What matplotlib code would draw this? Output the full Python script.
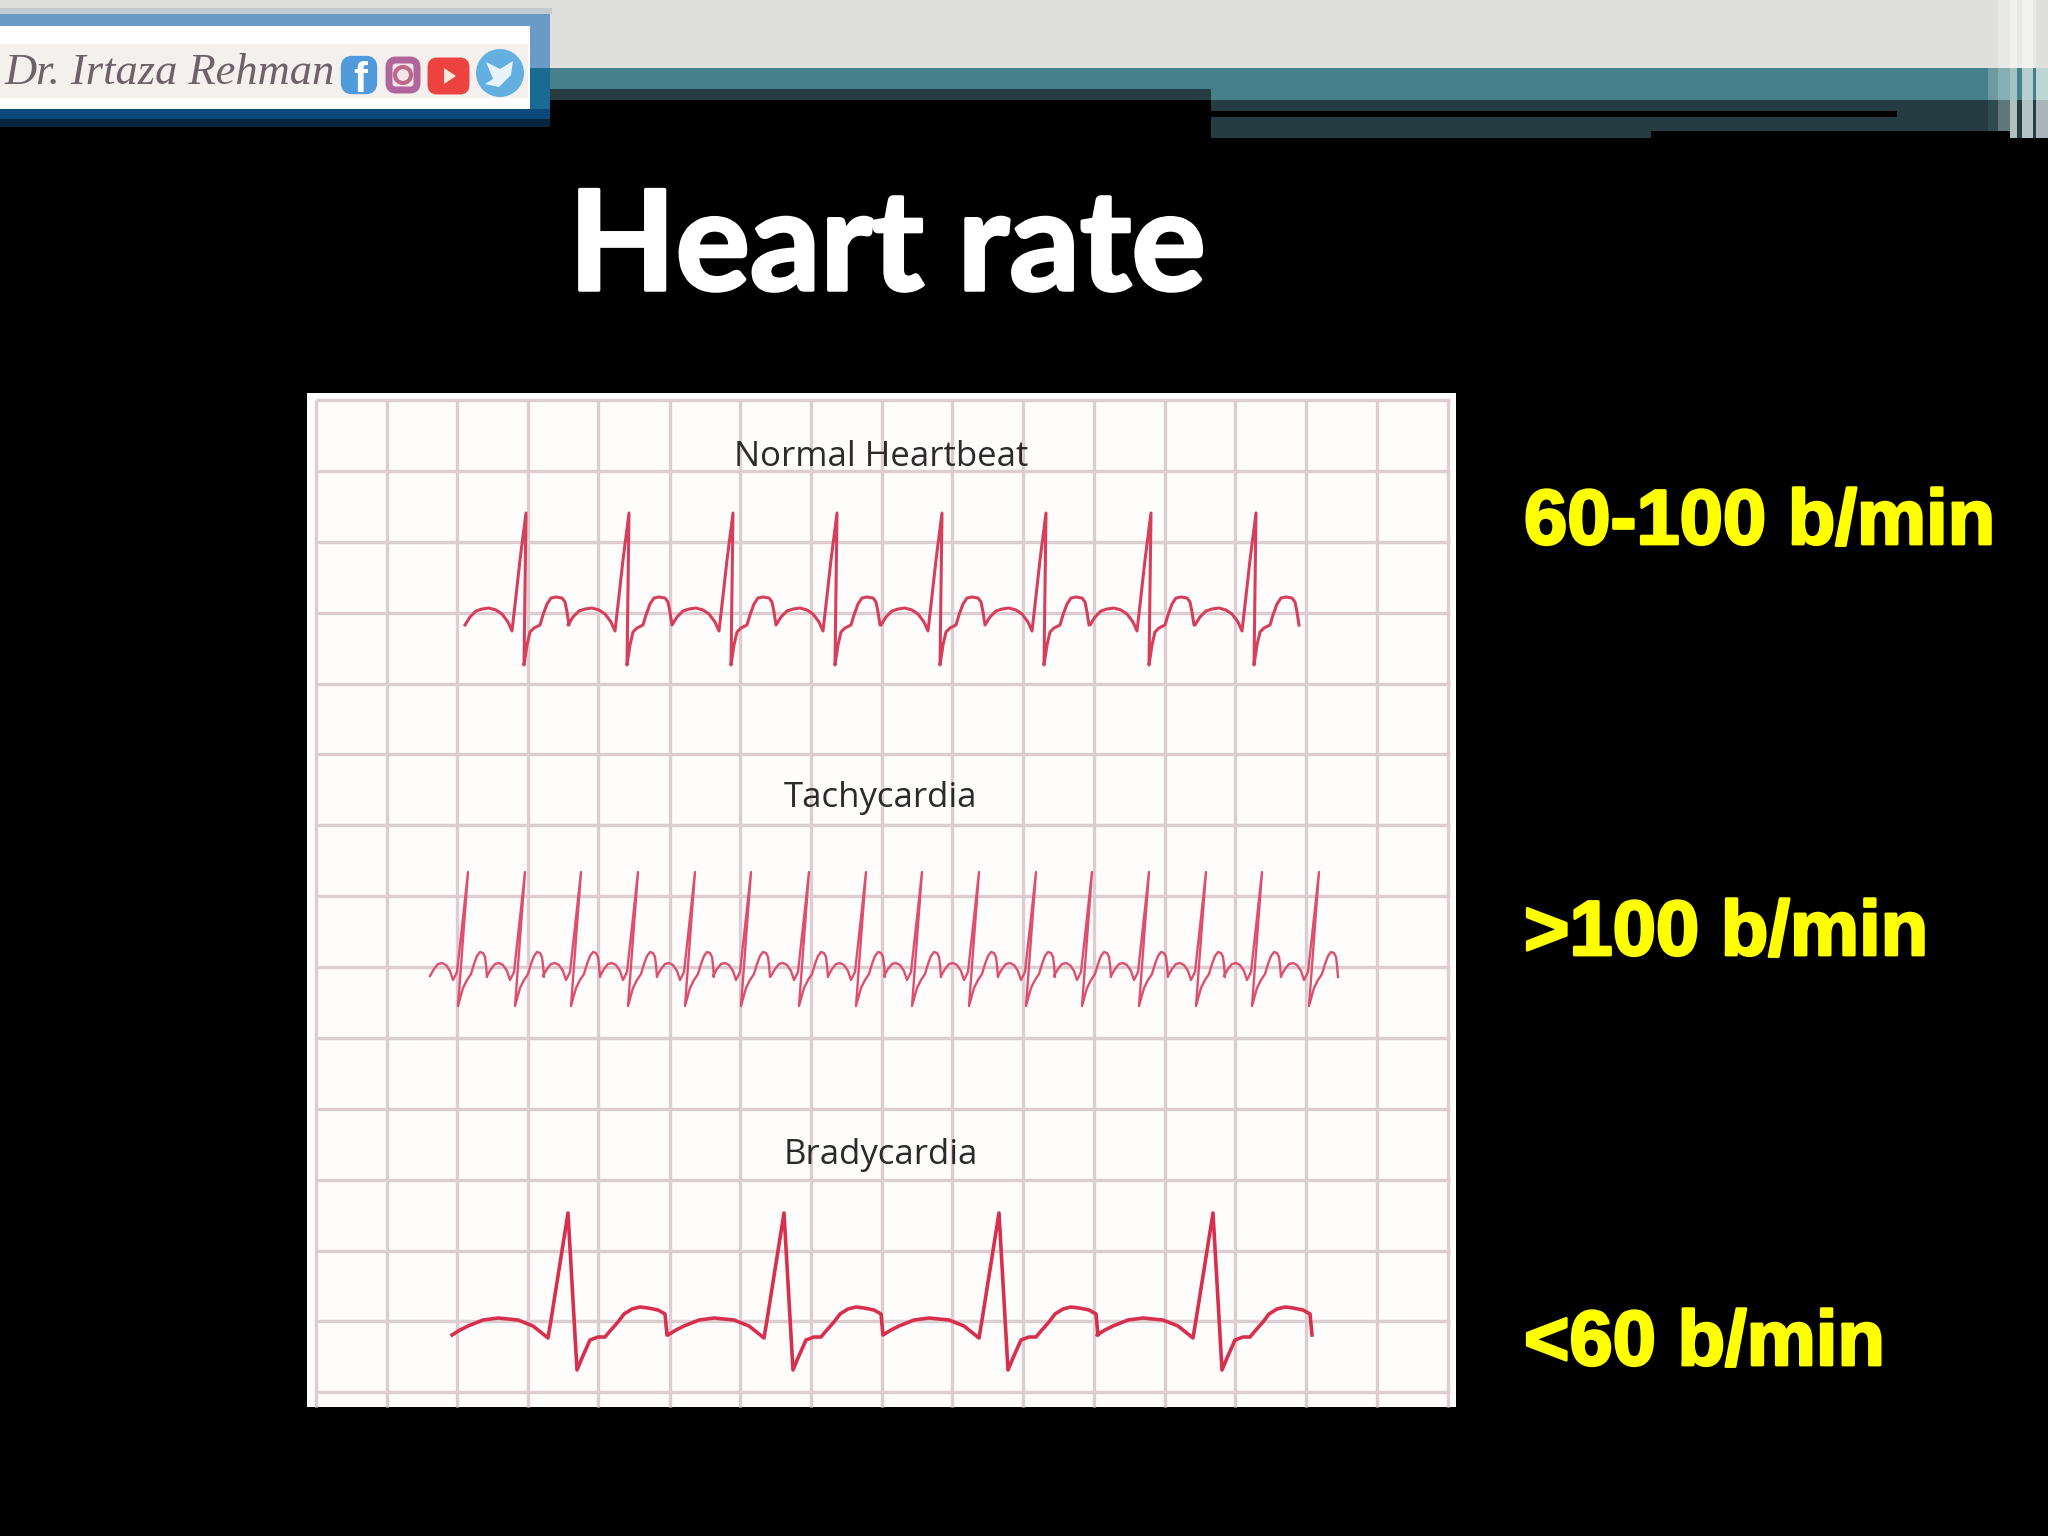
import matplotlib
matplotlib.use('Agg')
import matplotlib.pyplot as plt
import matplotlib.patheffects as pe
from matplotlib.patches import Rectangle, FancyBboxPatch, Circle, Polygon

title = 'Heart rate'
author = 'Dr. Irtaza Rehman'
strip_names = ['Normal Heartbeat', 'Tachycardia', 'Bradycardia']
rate_labels = ['60-100 b/min', '>100 b/min', '<60 b/min']

# grid lines of the ecg paper
grid_x = [316, 387, 457, 528, 598, 670, 740, 811, 882, 952, 1023, 1094, 1165, 1235, 1306, 1377, 1448]
grid_y = [400, 471, 542, 613, 684, 754, 825, 896, 967, 1038, 1109, 1180, 1251, 1321, 1392]

# R peak positions
normal_r = [526, 629, 733, 837, 942, 1046, 1151, 1256]
tachy_r = [468, 525, 581, 638, 695, 751, 809, 866, 922, 979, 1036, 1092, 1149, 1206, 1262, 1319]
brady_r = [568, 784, 999, 1213]

# one beat of each strip, offset from the R peak
normal_dx = [-61, -56, -50, -44, -37, -30, -24, -18, -14, -11, -6, 0, -2, 1, 4, 8, 14, 17, 21, 25, 30, 36, 39, 41, 43]
normal_y = [625, 617, 611, 609, 608, 610, 614, 622, 631, 605, 560, 513, 665, 645, 632, 628, 625, 615, 604, 598, 597, 598, 602, 612, 625]
tachy_dx = [-38, -34, -30, -26, -22, -18, -15, -11, 0, -10, -5, -1, 3, 6, 9, 12, 15, 17, 18, 19]
tachy_y = [976, 969, 964, 963, 965, 971, 980, 972, 872, 1006, 988, 980, 974, 964, 956, 952, 953, 957, 965, 977]
brady_dx = [-116, -108, -100, -85, -70, -50, -35, -20, -17, 0, 9, 14, 22, 30, 37, 42, 50, 56, 64, 72, 80, 90, 97, 99]
brady_y = [1335, 1330, 1326, 1320, 1318, 1320, 1326, 1338, 1320, 1213, 1370, 1358, 1340, 1337, 1337, 1331, 1322, 1314, 1309, 1307, 1308, 1310, 1314, 1335]


def strip(peaks, dx, y):
    xs = []
    ys = []
    for r in peaks:
        for i in range(len(dx)):
            xs.append(r + dx[i])
            ys.append(y[i])
    return xs, ys


fig = plt.figure(figsize=(20.48, 15.36), dpi=100, facecolor='black')
ax = fig.add_axes([0, 0, 1, 1])
ax.set_xlim(0, 2048)
ax.set_ylim(1536, 0)
ax.axis('off')

# header bands
ax.add_patch(Rectangle((0, 0), 2048, 68, color='#dfe0dd', lw=0))
ax.add_patch(Rectangle((530, 68), 1518, 32, color='#47808a', lw=0))
ax.add_patch(Rectangle((530, 89), 681, 11, color='#243c42', lw=0))
ax.add_patch(Rectangle((1211, 100), 440, 38, color='#243c42', lw=0))
ax.add_patch(Rectangle((1651, 100), 360, 31, color='#243c42', lw=0))
ax.add_patch(Rectangle((1211, 111), 686, 6, color='black', lw=0))
# stripes at the right end
for x0, x1, top, low in [(1988, 1998, '#6d9aa2', '#2f4a50'), (1998, 2010, '#86aeb3', '#5f7778'),
                         (2010, 2017, '#a3c2c3', '#aebfc0'), (2017, 2022, '#47808a', '#243c42'),
                         (2022, 2033, '#b5cfcf', '#b4c4c5'), (2033, 2036, '#47808a', '#243c42'),
                         (2036, 2048, '#bcd6d3', '#aab6bb')]:
    ax.add_patch(Rectangle((x0, 68), x1 - x0, 32, color=top, lw=0))
    ax.add_patch(Rectangle((x0, 100), x1 - x0, 38 if x0 >= 2010 else 31, color=low, lw=0))
for x0, x1 in [(1998, 2010), (2017, 2022), (2033, 2036)]:
    ax.add_patch(Rectangle((x0, 0), x1 - x0, 68, color='#e8e9e7', lw=0))
for x0, x1 in [(2010, 2017), (2022, 2033)]:
    ax.add_patch(Rectangle((x0, 0), x1 - x0, 68, color='#f1f2f0', lw=0))

# logo box
ax.add_patch(Rectangle((0, 8), 552, 6, color='#c3cbd0', lw=0))
ax.add_patch(Rectangle((0, 14), 550, 12, color='#6a9bc6', lw=0))
ax.add_patch(Rectangle((530, 14), 20, 56, color='#6a9bc6', lw=0))
ax.add_patch(Rectangle((530, 68), 20, 45, color='#1a6a93', lw=0))
ax.add_patch(Rectangle((0, 109), 550, 10, color='#0b4a7a', lw=0))
ax.add_patch(Rectangle((0, 119), 550, 8, color='#04263f', lw=0))
ax.add_patch(Rectangle((0, 26), 530, 83, color='white', lw=0))
ax.add_patch(Rectangle((0, 44), 528, 54, color='#f3f0ed', lw=0))
ax.text(4, 84, author, family='Liberation Serif', style='italic', size=32, color='#6d6269')
ax.add_patch(FancyBboxPatch((345, 60), 28, 30, boxstyle='round,pad=0,rounding_size=7', fc='#4f9bdc', ec='#4f9bdc', lw=6))
ax.text(360, 92, 'f', family='Liberation Sans', weight='bold', size=30, color='white', ha='center')
ax.add_patch(FancyBboxPatch((389, 60), 28, 30, boxstyle='round,pad=0,rounding_size=7', fc='#f3e6e8', ec='#b0659c', lw=5))
ax.add_patch(Circle((403, 75), 8, fc='none', ec='#c0688a', lw=3))
ax.add_patch(FancyBboxPatch((431, 61), 35, 30, boxstyle='round,pad=0,rounding_size=6', fc='#ee4240', ec='#ee4240', lw=5))
ax.add_patch(Polygon([[444, 68], [444, 84], [456, 76]], fc='#f7e7d8', lw=0))
ax.add_patch(Circle((500, 73), 24, fc='#62afe0', lw=0))
ax.add_patch(Polygon([[486, 62], [500, 69], [513, 61], [511, 75], [499, 87], [485, 84], [493, 79]], fc='#e8f4fb', lw=0))

ax.text(887, 290, title, family='Lato', weight='bold', size=100, color='white', ha='center',
        path_effects=[pe.withStroke(linewidth=2.5, foreground='white')])

# ecg paper
ax.add_patch(Rectangle((307, 393), 1149, 1014, color='white', lw=0))
ax.add_patch(Rectangle((312, 398), 1138, 1009, color='#fffcfc', lw=0))
for gx in grid_x:
    ax.plot([gx, gx], [400, 1407], color='#dccdd1', lw=2.4, solid_capstyle='butt')
for gy in grid_y:
    ax.plot([316, 1450], [gy, gy], color='#dccdd1', lw=2.4, solid_capstyle='butt')

for name, by in zip(strip_names, [466, 807, 1164]):
    ax.text(881, by, name, family='Open Sans', size=25, color='#2b2b2b', ha='center')

x, y = strip(normal_r, normal_dx, normal_y)
ax.plot(x, y, color='#d63f5c', lw=2.2, solid_joinstyle='round')
x, y = strip(tachy_r, tachy_dx, tachy_y)
ax.plot(x, y, color='#dd4f6e', lw=1.7, solid_joinstyle='round')
x, y = strip(brady_r, brady_dx, brady_y)
ax.plot(x, y, color='#d7304f', lw=2.6, solid_joinstyle='round')

for label, by in zip(rate_labels, [544, 955, 1365]):
    ax.text(1524, by, label, family='Liberation Sans', weight='bold', size=56, color='#ffff00',
            path_effects=[pe.withStroke(linewidth=2, foreground='#ffff00')])

fig.savefig('out.png', dpi=100, facecolor='black')
